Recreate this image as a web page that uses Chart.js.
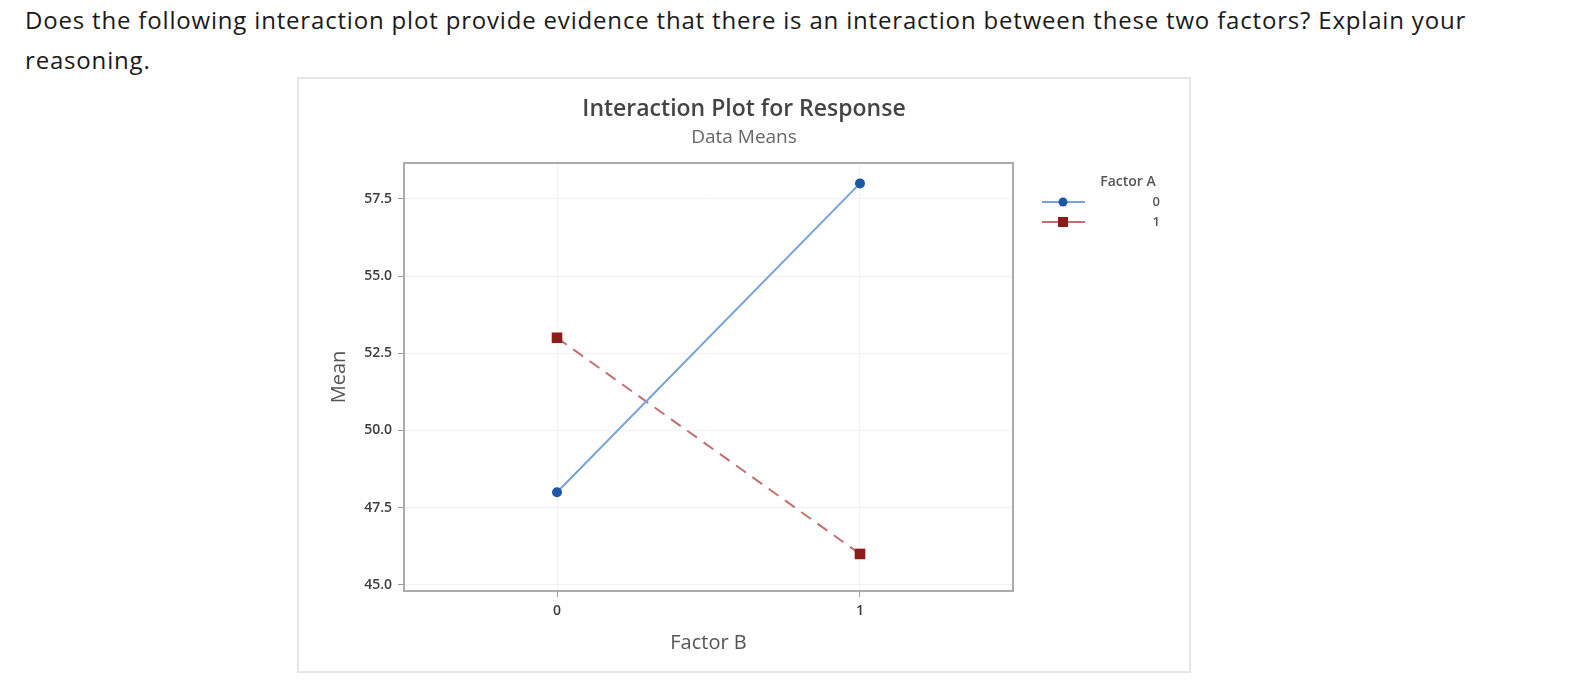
<!DOCTYPE html>
<html>
<head>
<meta charset="utf-8">
<script src="https://cdn.jsdelivr.net/npm/chart.js@4.4.0/dist/chart.umd.min.js"></script>
<style>
  body { margin: 0; background: #fff; width: 1576px; height: 696px; overflow: hidden; font-family: "Open Sans", sans-serif; }
  .question { position: absolute; left: 25px; top: 0; font-size: 24px; letter-spacing: 0.82px; line-height: 40px; color: #1a1a1a; white-space: nowrap; }
  .q1 { position: absolute; left: 0; top: 0; }
  .q2 { position: absolute; left: 0; top: 40px; }
  .box { position: absolute; left: 297px; top: 77px; width: 894px; height: 596px; border: 2px solid #e6e6e6; box-sizing: border-box; }
  .box canvas { position: absolute; left: 0; top: 0; }
</style>
</head>
<body>
<div class="question">
  <div class="q1">Does the following interaction plot provide evidence that there is an interaction between these two factors? Explain your</div>
  <div class="q2">reasoning.</div>
</div>
<div class="box">
  <canvas id="chart" width="890" height="592"></canvas>
</div>
<script>
// data
var factorB = [0, 1];
var meansA0 = [48.0, 58.0];
var meansA1 = [53.0, 46.0];
var factorALevels = ["0", "1"];
var yTicks = [45.0, 47.5, 50.0, 52.5, 55.0, 57.5];
var xTicks = [0, 1];

function points(ys) {
    return factorB.map(function(x, i) { return { x: x, y: ys[i] }; });
}

var FONT = "'Open Sans', sans-serif";

// frame, titles and the Factor A legend
var decor = {
    id: 'decor',
    beforeDatasetsDraw: function(chart) {
        var ctx = chart.ctx, a = chart.chartArea;
        ctx.save();
        ctx.strokeStyle = '#ababab';
        ctx.lineWidth = 2;
        ctx.strokeRect(a.left, a.top, a.right - a.left, a.bottom - a.top);
        ctx.restore();
    },
    afterDraw: function(chart) {
        var ctx = chart.ctx;
        ctx.save();
        ctx.textAlign = 'center';
        ctx.textBaseline = 'middle';
        ctx.fillStyle = '#444';
        ctx.font = '600 23px ' + FONT;
        ctx.fillText('Interaction Plot for Response', 445, 30);
        ctx.fillStyle = '#666';
        ctx.font = '19px ' + FONT;
        ctx.fillText('Data Means', 445, 59);

        ctx.fillStyle = '#555';
        ctx.font = '600 14px ' + FONT;
        ctx.fillText('Factor A', 829, 103);

        chart.data.datasets.forEach(function(ds, i) {
            var y = 123 + i * 20;
            ctx.strokeStyle = ds.borderColor;
            ctx.lineWidth = 2;
            ctx.setLineDash([]);
            ctx.beginPath();
            ctx.moveTo(743, y);
            ctx.lineTo(786, y);
            ctx.stroke();
            ctx.fillStyle = ds.pointBackgroundColor;
            if (ds.pointStyle === 'rect') {
                ctx.fillRect(759, y - 5, 10, 10);
            } else {
                ctx.beginPath();
                ctx.arc(764, y, 4.5, 0, Math.PI * 2);
                ctx.fill();
            }
            ctx.fillStyle = '#555';
            ctx.textAlign = 'right';
            ctx.font = '600 13px ' + FONT;
            ctx.fillText(factorALevels[i], 861, y);
        });
        ctx.restore();
    }
};

new Chart(document.getElementById('chart'), {
    type: 'line',
    data: {
        datasets: [
            {
                label: factorALevels[0],
                data: points(meansA0),
                borderColor: '#74a2d9',
                borderWidth: 2,
                pointStyle: 'circle',
                pointRadius: 5,
                pointBackgroundColor: '#1f57a8',
                pointBorderColor: '#1f57a8',
                pointBorderWidth: 0
            },
            {
                label: factorALevels[1],
                data: points(meansA1),
                borderColor: '#c46f6f',
                borderWidth: 2,
                borderDash: [12, 8],
                pointStyle: 'rect',
                pointRadius: 7.5,
                pointBackgroundColor: '#8c1c1c',
                pointBorderColor: '#8c1c1c',
                pointBorderWidth: 0
            }
        ]
    },
    options: {
        responsive: false,
        animation: false,
        layout: { padding: { left: 0, top: 84, right: 176, bottom: 0 } },
        plugins: {
            legend: { display: false },
            tooltip: { enabled: false }
        },
        scales: {
            x: {
                type: 'linear',
                min: -0.505,
                max: 1.505,
                afterBuildTicks: function(s) { s.ticks = xTicks.map(function(v) { return { value: v }; }); },
                afterFit: function(s) { s.height = 80; },
                grid: { color: '#f1f1f1', tickColor: '#999', tickLength: 6 },
                border: { display: false },
                ticks: { color: '#3c3c3c', padding: 6, font: { family: FONT, size: 14, weight: '600' } },
                title: { display: true, text: 'Factor B', color: '#555', padding: { top: 0, bottom: 16 }, font: { family: FONT, size: 20 } }
            },
            y: {
                min: 44.8,
                max: 58.66,
                afterBuildTicks: function(s) { s.ticks = yTicks.map(function(v) { return { value: v }; }); },
                afterFit: function(s) { s.width = 105; },
                grid: { color: '#f1f1f1', tickColor: '#999', tickLength: 6 },
                border: { display: false },
                ticks: {
                    color: '#3c3c3c', padding: 6,
                    font: { family: FONT, size: 14, weight: '600' },
                    callback: function(v) { return Number(v).toFixed(1); }
                },
                title: { display: true, text: 'Mean', color: '#555', padding: { top: 28, bottom: 0 }, font: { family: FONT, size: 20 } }
            }
        }
    },
    plugins: [decor]
});
</script>
</body>
</html>
